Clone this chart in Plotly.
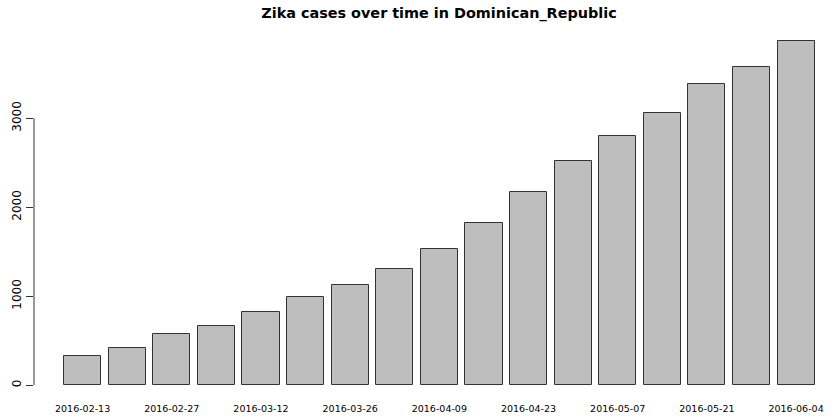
import plotly.graph_objects as go

dates = ["2016-02-13", "2016-02-20", "2016-02-27", "2016-03-05", "2016-03-12",
         "2016-03-19", "2016-03-26", "2016-04-02", "2016-04-09", "2016-04-16",
         "2016-04-23", "2016-04-30", "2016-05-07", "2016-05-14", "2016-05-21",
         "2016-05-28", "2016-06-04"]
cases = [323, 413, 574, 671, 821, 993, 1125, 1305, 1533, 1819,
         2168, 2516, 2805, 3056, 3382, 3574, 3870]
y_ticks = [0, 1000, 2000, 3000]

# R barplot style positions: width 1, space 0.2
pos = [0.7 + 1.2 * i for i in range(len(dates))]
label_idx = list(range(0, len(dates), 2))

W, H = 832, 417
ml, mr, mt, mb = 34, 6, 27, 18
px_per_unit = 37.16
x0 = -0.608
x1 = x0 + (W - ml - mr) / px_per_unit
ymax = max(cases)
yr = [-0.04 * ymax, 1.04 * ymax]

fig = go.Figure()
fig.add_trace(go.Bar(
    x=pos, y=cases, width=1.0,
    marker=dict(color="#BEBEBE", line=dict(color="#333333", width=1)),
    hoverinfo="skip", cliponaxis=False,
))

fig.update_layout(
    width=W, height=H,
    margin=dict(l=ml, r=mr, t=mt, b=mb, autoexpand=False),
    paper_bgcolor="white", plot_bgcolor="white",
    showlegend=False,
    font=dict(family="DejaVu Sans", color="black"),
    title=dict(text="<b>Zika cases over time in Dominican_Republic</b>",
               x=439 / W, xref="container", xanchor="center",
               y=1 - 12.5 / H, yref="container", yanchor="middle",
               automargin=False,
               font=dict(size=14.4, family="DejaVu Sans", color="black")),
    bargap=0,
)
fig.update_xaxes(
    range=[x0, x1], showgrid=False, zeroline=False, showline=False,
    automargin=False,
    tickmode="array", tickvals=[pos[i] for i in label_idx],
    ticktext=[dates[i] for i in label_idx],
    ticks="", tickfont=dict(size=9.5, family="DejaVu Sans", color="black"),
    ticklabelstandoff=2,
)
fig.update_yaxes(
    range=yr, showgrid=False, zeroline=False, showline=False,
    automargin=False,
    tickmode="array", tickvals=y_ticks, ticktext=[str(v) for v in y_ticks],
    ticks="outside", ticklen=7, tickcolor="#333333", tickwidth=1,
    tickangle=-90, tickfont=dict(size=12, family="DejaVu Sans", color="black"),
)
fig.add_shape(type="line", xref="paper", yref="y", x0=0, x1=0,
              y0=y_ticks[0], y1=y_ticks[-1],
              line=dict(color="#333333", width=1))

fig.write_html("out.html", config={"displayModeBar": False},
               post_script="document.body.style.margin='0';document.body.style.overflow='hidden';")
